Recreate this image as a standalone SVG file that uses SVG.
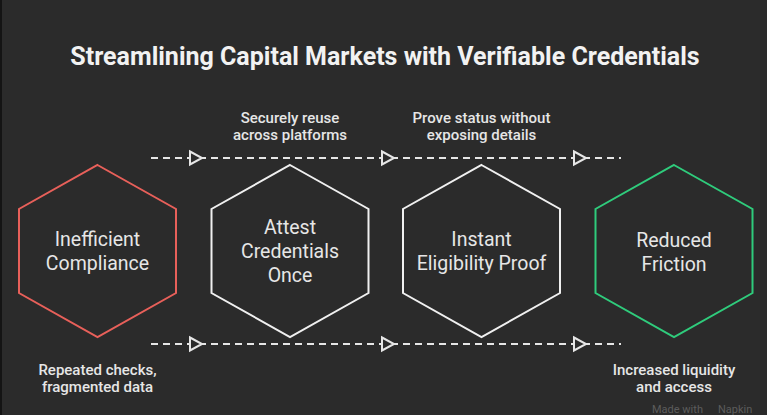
<svg xmlns="http://www.w3.org/2000/svg" width="767" height="415" viewBox="0 0 767 415">
  <defs>
    <style>
      .bg { fill: #2b2b2b; }
      .title { font-family: Roboto, "Liberation Sans", sans-serif; font-weight: 700; font-size: 25px; fill: #f2f2f2; text-anchor: middle; }
      .node-text { font-family: Roboto, "Liberation Sans", sans-serif; font-weight: 400; font-size: 19.5px; fill: #e6e6e6; text-anchor: middle; }
      .label { font-family: Roboto, "Liberation Sans", sans-serif; font-weight: 500; font-size: 15px; fill: #e6e6e6; text-anchor: middle; }
      .hex { fill: none; stroke-width: 2; stroke-linejoin: miter; }
      .dash { fill: none; stroke: #e6e6e6; stroke-width: 2; stroke-dasharray: 7 5; }
      .arrow { fill: #2b2b2b; stroke: #e6e6e6; stroke-width: 2; stroke-linejoin: miter; }
      .wm { font-family: Roboto, "Liberation Sans", sans-serif; font-size: 11px; fill: #5c5c5c; }
    </style>
  </defs>
  <rect class="bg" x="0" y="0" width="767" height="415"/>
  <rect x="0" y="0" width="2" height="415" fill="#141414"/>

  <text class="title" x="385" y="65">Streamlining Capital Markets with Verifiable Credentials</text>

  <g id="connectors">
    <line class="dash" x1="151" y1="158" x2="621" y2="158"/>
    <polygon class="arrow" points="190,151.5 202,158 190,164.5"/>
    <polygon class="arrow" points="382,151.5 394,158 382,164.5"/>
    <polygon class="arrow" points="574,151.5 586,158 574,164.5"/>
    <line class="dash" x1="151" y1="344" x2="621" y2="344"/>
    <polygon class="arrow" points="190,337.5 202,344 190,350.5"/>
    <polygon class="arrow" points="382,337.5 394,344 382,350.5"/>
    <polygon class="arrow" points="574,337.5 586,344 574,350.5"/>
  </g>

  <g id="node-inefficient">
    <polygon class="hex" stroke="#e8605a" points="97.5,165 176,209 176,293 97.5,337 19,293 19,209"/>
    <text class="node-text" x="97.5" y="246">Inefficient</text>
    <text class="node-text" x="97.5" y="270">Compliance</text>
  </g>

  <g id="node-attest">
    <polygon class="hex" stroke="#f0f0f0" points="290,165 368.5,209 368.5,293 290,337 211.5,293 211.5,209"/>
    <text class="node-text" x="290" y="234">Attest</text>
    <text class="node-text" x="290" y="258">Credentials</text>
    <text class="node-text" x="290" y="282">Once</text>
  </g>

  <g id="node-instant">
    <polygon class="hex" stroke="#f0f0f0" points="481.5,165 560,209 560,293 481.5,337 403,293 403,209"/>
    <text class="node-text" x="481.5" y="246">Instant</text>
    <text class="node-text" x="481.5" y="270">Eligibility Proof</text>
  </g>

  <g id="node-reduced">
    <polygon class="hex" stroke="#2fcc7c" points="674,165 752.5,209 752.5,293 674,337 595.5,293 595.5,209"/>
    <text class="node-text" x="674" y="246.5">Reduced</text>
    <text class="node-text" x="674" y="270.5">Friction</text>
  </g>

  <g id="label-reuse">
    <text class="label" x="290" y="123">Securely reuse</text>
    <text class="label" x="290" y="140">across platforms</text>
  </g>
  <g id="label-prove">
    <text class="label" x="481.5" y="123">Prove status without</text>
    <text class="label" x="481.5" y="140">exposing details</text>
  </g>
  <g id="label-repeated">
    <text class="label" x="97.5" y="374.5">Repeated checks,</text>
    <text class="label" x="97.5" y="391.5">fragmented data</text>
  </g>
  <g id="label-increased">
    <text class="label" x="674" y="374.5">Increased liquidity</text>
    <text class="label" x="674" y="391.5">and access</text>
  </g>

  <text class="wm" x="652" y="413">Made with</text>
  <text class="wm" x="718" y="413">Napkin</text>
</svg>
